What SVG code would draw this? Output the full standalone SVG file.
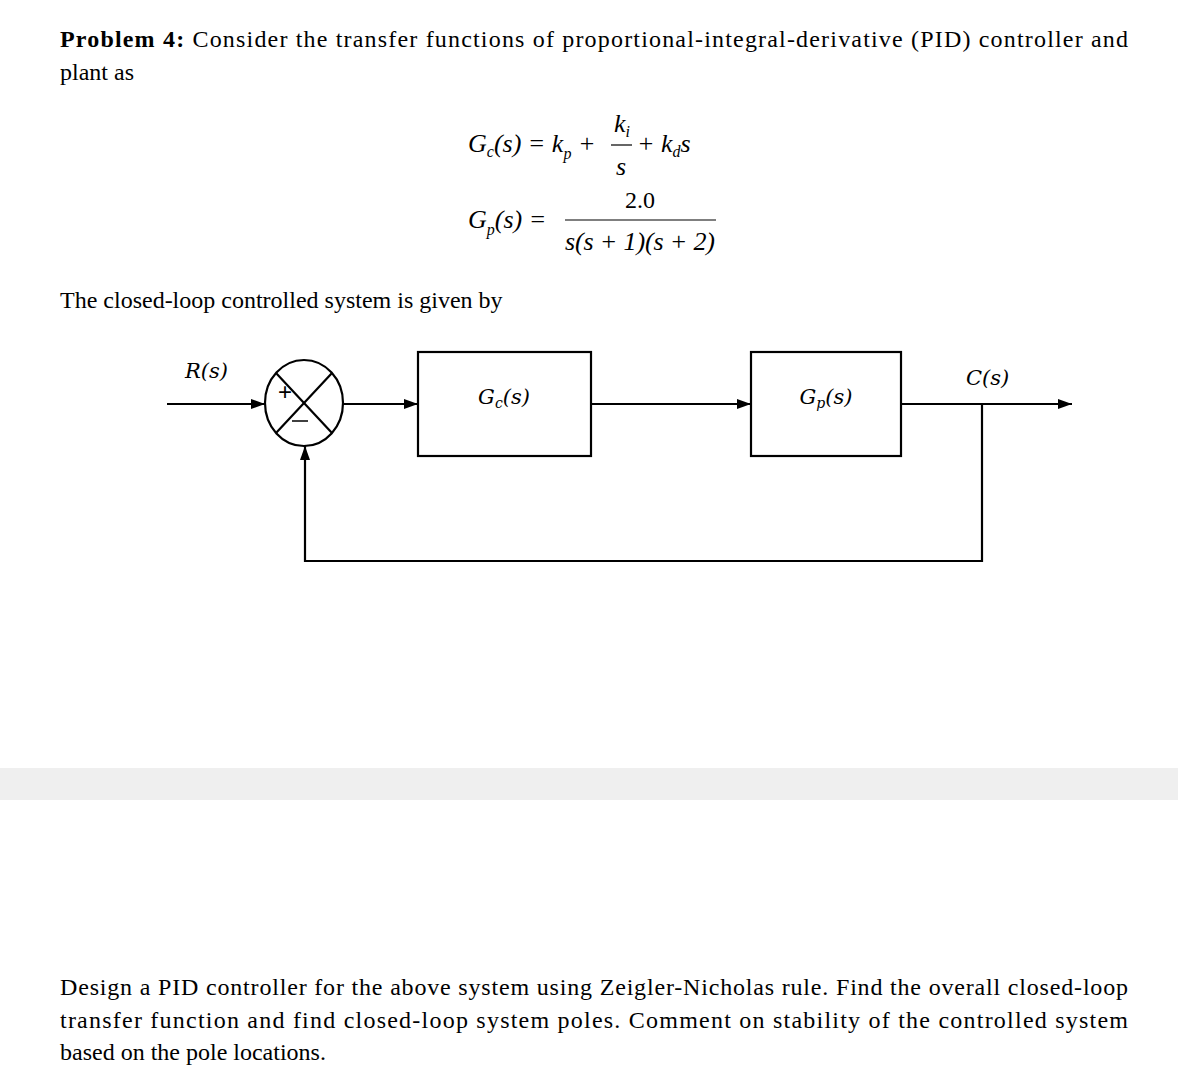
<svg xmlns="http://www.w3.org/2000/svg" width="1178" height="1080" viewBox="0 0 1178 1080">
<style>
.t{font-family:"Liberation Serif",serif;font-size:24px;fill:#000}
.m{font-family:"Liberation Serif",serif;font-style:italic;font-size:26px;fill:#000}
.c{font-family:"DejaVu Serif",serif;font-style:italic;font-size:21px;fill:#000}
.ln{stroke:#000;stroke-width:2.2;fill:none}
.bx{stroke:#000;stroke-width:2.2;fill:#fff}
</style>
<defs><marker id="a" markerWidth="14" markerHeight="10" refX="14" refY="5" orient="auto" markerUnits="userSpaceOnUse"><path d="M0,0L14,5L0,10z" fill="#000"/></marker></defs>
<rect width="1178" height="1080" fill="#fff"/>
<text class="t" x="60" y="47" textLength="1068" lengthAdjust="spacing"><tspan font-weight="bold">Problem 4:</tspan> Consider the transfer functions of proportional-integral-derivative (PID) controller and</text>
<text class="t" x="60" y="80">plant as</text>
<g id="eq">
<text class="m" x="468" y="152">G<tspan font-size="16" dy="5">c</tspan><tspan dy="-5">(s) = k</tspan><tspan font-size="16" dy="7">p</tspan><tspan dy="-7"> +</tspan></text>
<text class="m" x="614" y="132">k<tspan font-size="16" dy="5">i</tspan></text>
<line x1="611" y1="145" x2="632" y2="145" stroke="#000" stroke-width="1.2"/>
<text class="m" x="616" y="175">s</text>
<text class="m" x="637" y="152">+ k<tspan font-size="16" dy="5">d</tspan><tspan dy="-5">s</tspan></text>
<text class="m" x="468" y="228">G<tspan font-size="16" dy="7">p</tspan><tspan dy="-7">(s) =</tspan></text>
<text class="t" x="640" y="208" text-anchor="middle">2.0</text>
<line x1="565" y1="220" x2="716" y2="220" stroke="#000" stroke-width="1.2"/>
<text class="m" x="640" y="250" text-anchor="middle" textLength="150" lengthAdjust="spacing">s(s + 1)(s + 2)</text>
</g>
<text class="t" x="60" y="308">The closed-loop controlled system is given by</text>
<g id="R"><text class="c" x="185" y="378">R(s)</text></g>
<g id="sum">
<ellipse cx="304" cy="403" rx="39" ry="43" class="bx"/>
<line x1="276" y1="373" x2="332" y2="433" class="ln"/>
<line x1="332" y1="373" x2="276" y2="433" class="ln"/>
<text x="285" y="400" font-family="Liberation Sans,sans-serif" font-size="24" text-anchor="middle">+</text>
<line x1="292" y1="421" x2="308" y2="421" stroke="#000" stroke-width="1.5"/>
</g>
<g id="gc"><rect x="418" y="352" width="173" height="104" class="bx"/><text class="c" x="504" y="404" text-anchor="middle">G<tspan font-size="14" dy="4">c</tspan><tspan dy="-4">(s)</tspan></text></g>
<g id="gp"><rect x="751" y="352" width="150" height="104" class="bx"/><text class="c" x="826" y="404" text-anchor="middle">G<tspan font-size="14" dy="4">p</tspan><tspan dy="-4">(s)</tspan></text></g>
<g id="C"><text class="c" x="966" y="385">C(s)</text></g>
<g id="connectors">
<line x1="167" y1="404" x2="265" y2="404" class="ln" marker-end="url(#a)"/>
<line x1="343" y1="404" x2="418" y2="404" class="ln" marker-end="url(#a)"/>
<line x1="591" y1="404" x2="751" y2="404" class="ln" marker-end="url(#a)"/>
<line x1="901" y1="404" x2="1072" y2="404" class="ln" marker-end="url(#a)"/>
<polyline points="982,404 982,561 305,561 305,446" class="ln" marker-end="url(#a)"/>
</g>
<rect x="0" y="768" width="1178" height="32" fill="#efefef"/>
<text class="t" x="60" y="995" textLength="1068" lengthAdjust="spacing">Design a PID controller for the above system using Zeigler-Nicholas rule. Find the overall closed-loop</text>
<text class="t" x="60" y="1028" textLength="1068" lengthAdjust="spacing">transfer function and find closed-loop system poles. Comment on stability of the controlled system</text>
<text class="t" x="60" y="1060">based on the pole locations.</text>
</svg>
